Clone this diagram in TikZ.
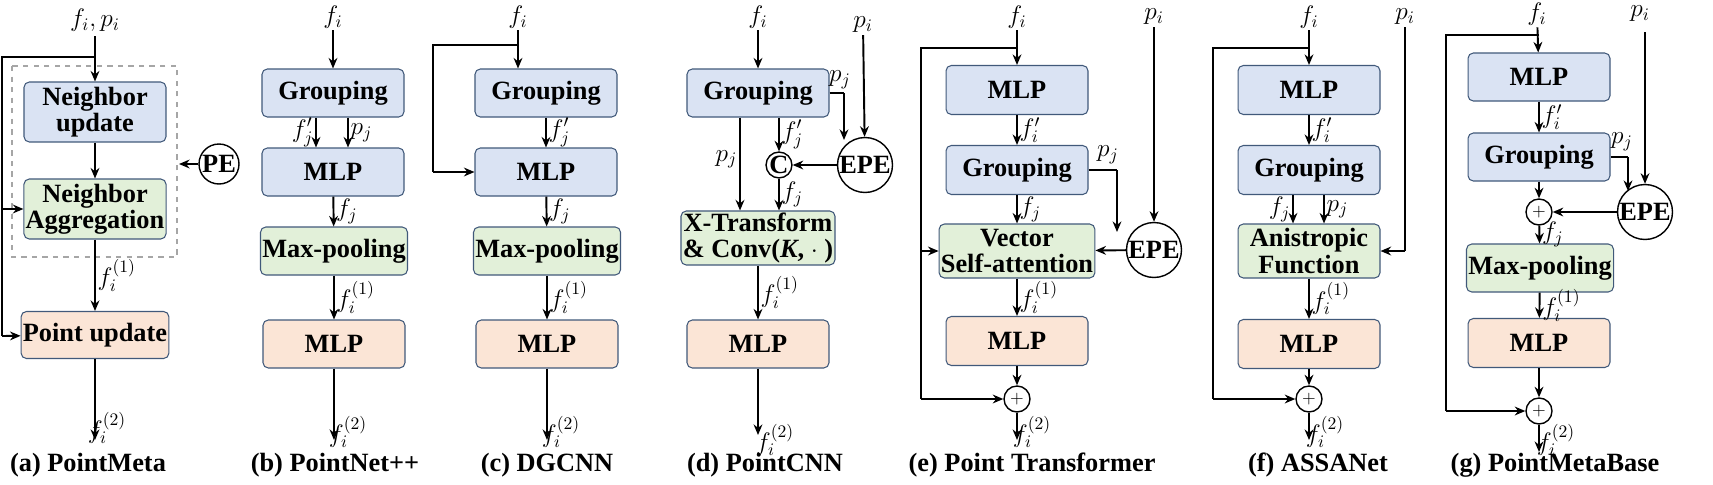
\documentclass[tikz,border=0pt]{standalone}
\usepackage{fontspec}
\setmainfont{Liberation Serif}
\usetikzlibrary{positioning, arrows.meta, shapes}
\definecolor{bluefill}{HTML}{DAE3F3}
\definecolor{greenfill}{HTML}{E2F0D9}
\definecolor{orangefill}{HTML}{FBE5D6}
\definecolor{boxline}{HTML}{41597A}
\begin{document}
\begin{tikzpicture}[
        x=0.02cm, y=-0.02cm,
        box/.style={draw=boxline, line width=0.6pt, rounded corners=3pt, minimum width=2.84cm, align=center, font=\fontsize{15}{15}\selectfont\bfseries, inner sep=1pt},
        blue/.style={box, fill=bluefill},
        green/.style={box, fill=greenfill},
        orange/.style={box, fill=orangefill},
        circ/.style={draw, circle, line width=0.8pt, inner sep=0pt, minimum size=#1, font=\fontsize{15}{15}\selectfont\bfseries},
        arrow/.style={draw, line width=1.1pt, -{Stealth[length=6pt,width=5pt]}},
        line/.style={draw, line width=1.1pt},
        lbl/.style={font=\fontsize{14}{14}\selectfont, inner sep=1pt},
        caption/.style={font=\fontsize{15}{15}\selectfont\bfseries}
    ]
    \useasboundingbox (0,0) rectangle (1713,484);

    % (a) PointMeta
    \node (ain) [lbl] at (95,20) {$f_i,p_i$};
    \node (anu) [blue, minimum height=1.2cm] at (95,112) {Neighbor\\update};
    \node (aag) [green, minimum height=1.2cm] at (95,209) {Neighbor\\Aggregation};
    \node (apu) [orange, minimum height=0.94cm] at (95,335) {Point update};
    \node (ape) [circ=0.8cm] at (219,164) {PE};
    \node (aout) [lbl] at (107,428) {$f_i^{(2)}$};
    \coordinate (aend) at (95,440);
    \coordinate (abr) at (95,57);
    \draw[dashed, gray!70, line width=0.9pt] (12,66) rectangle (177,257);
    \draw[arrow] (95,36) -- (anu);
    \draw[arrow] (anu) -- (aag);
    \draw[arrow] (aag) -- node[lbl, right] {$f_i^{(1)}$} (apu);
    \draw[arrow] (apu) -- (aend);
    \draw[arrow] (ape) -- (179,164);
    \draw[line] (abr) -- (2,57) -- (2,336);
    \draw[arrow] (2,336) -- (apu);
    \draw[arrow] (2,209) -- (aag);
    \node[caption] at (88,465) {(a) PointMeta};

    % (b) PointNet++
    \node (bin) [lbl] at (333,17) {$f_i$};
    \node (bgr) [blue, minimum height=0.96cm] at (333,93) {Grouping};
    \node (bm1) [blue, minimum height=0.96cm] at (333,172) {MLP};
    \node (bmp) [green, minimum height=0.96cm] at (334,251) {Max-pooling};
    \node (bm2) [orange, minimum height=0.96cm] at (334,344) {MLP};
    \coordinate (bend) at (334,440);
    \draw[arrow] (bin) -- (bgr);
    \draw[arrow] (bgr.south -| 316,0) -- node[lbl, left] {$f_j'$} (bm1.north -| 316,0);
    \draw[arrow] (bgr.south -| 348,0) -- node[lbl, right] {$p_j$} (bm1.north -| 348,0);
    \draw[arrow] (bm1) -- node[lbl, right] {$f_j$} (bmp);
    \draw[arrow] (bmp) -- node[lbl, right] {$f_i^{(1)}$} (bm2);
    \draw[arrow] (bm2) -- (bend);
    \node[lbl] at (348,432) {$f_i^{(2)}$};
    \node[caption] at (335,465) {(b) PointNet++};

    % (c) DGCNN
    \node (cin) [lbl] at (518,17) {$f_i$};
    \node (cgr) [blue, minimum height=0.96cm] at (546,93) {Grouping};
    \node (cm1) [blue, minimum height=0.96cm] at (546,172) {MLP};
    \node (cmp) [green, minimum height=0.96cm] at (547,251) {Max-pooling};
    \node (cm2) [orange, minimum height=0.96cm] at (547,344) {MLP};
    \coordinate (cend) at (547,440);
    \draw[arrow] (cin) -- (cgr.north -| cin);
    \draw[line] (518,45) -- (433,45) -- (433,172);
    \draw[arrow] (433,172) -- (cm1);
    \draw[arrow] (cgr) -- node[lbl, right] {$f_j'$} (cm1);
    \draw[arrow] (cm1) -- node[lbl, right] {$f_j$} (cmp);
    \draw[arrow] (cmp) -- node[lbl, right] {$f_i^{(1)}$} (cm2);
    \draw[arrow] (cm2) -- (cend);
    \node[lbl] at (561,432) {$f_i^{(2)}$};
    \node[caption] at (547,465) {(c) DGCNN};

    % (d) PointCNN
    \node (din) [lbl] at (758,17) {$f_i$};
    \node (dpin) [lbl] at (863,25) {$p_i$};
    \node (dgr) [blue, minimum height=0.96cm] at (758,93) {Grouping};
    \node (dc) [circ=0.5cm] at (779,165) {C};
    \node (depe) [circ=1.1cm] at (865,165) {EPE};
    \node (dxt) [green, minimum height=1.06cm] at (758,238) {X-Transform\\\& Conv(\textit{K}, $\cdot$ )};
    \node (dm2) [orange, minimum height=0.96cm] at (758,344) {MLP};
    \coordinate (dend) at (758,435);
    \draw[arrow] (din) -- (dgr);
    \draw[arrow] (dgr.south -| 740,0) -- node[lbl, left, pos=0.45] {$p_j$} (dxt.north -| 740,0);
    \draw[arrow] (dgr.south -| dc) -- node[lbl, right] {$f_j'$} (dc);
    \draw[arrow] (dc) -- node[lbl, right] {$f_j$} (dxt.north -| dc);
    \draw[arrow] (depe) -- (dc);
    \draw[arrow] (dpin) -- (depe);
    \draw[line] (dgr.east |- 0,93) -- (844,93);
    \draw[arrow] (844,93) -- (844,140);
    \node[lbl] at (840,80) {$p_j$};
    \draw[arrow] (dxt) -- node[lbl, right] {$f_i^{(1)}$} (dm2);
    \draw[arrow] (dm2) -- (dend);
    \node[lbl] at (775,440) {$f_i^{(2)}$};
    \node[caption] at (765,465) {(d) PointCNN};

    % (e) Point Transformer
    \node (ein) [lbl] at (1017,17) {$f_i$};
    \node (epin) [lbl] at (1154,17) {$p_i$};
    \node (em1) [blue, minimum height=0.98cm] at (1017,90) {MLP};
    \node (egr) [blue, minimum height=0.98cm] at (1017,170) {Grouping};
    \node (esa) [green, minimum height=1.08cm] at (1017,251) {Vector\\Self-attention};
    \node (em2) [orange, minimum height=0.98cm] at (1017,341) {MLP};
    \node (eplus) [circ=0.52cm, font=\normalsize] at (1017,399) {$+$};
    \node (eepe) [circ=1.1cm] at (1154,250) {EPE};
    \coordinate (eend) at (1017,440);
    \draw[arrow] (ein) -- (em1);
    \draw[arrow] (em1) -- node[lbl, right] {$f_i'$} (egr);
    \draw[arrow] (egr) -- node[lbl, right] {$f_j$} (esa);
    \draw[arrow] (esa) -- node[lbl, right] {$f_i^{(1)}$} (em2);
    \draw[arrow] (em2) -- (eplus);
    \draw[arrow] (eplus) -- (eend);
    \node[lbl] at (1032,432) {$f_i^{(2)}$};
    \draw[arrow] (epin) -- (eepe);
    \draw[arrow] (eepe) -- (esa);
    \draw[line] (egr.east) -- (1117,170);
    \draw[arrow] (1117,170) -- (1117,232);
    \node[lbl] at (1108,155) {$p_j$};
    \draw[line] (1017,48) -- (921,48) -- (921,399);
    \draw[arrow] (921,399) -- (eplus);
    \draw[arrow] (921,251) -- (esa);
    \node[caption] at (1032,465) {(e) Point Transformer};

    % (f) ASSANet
    \node (fin) [lbl] at (1309,17) {$f_i$};
    \node (fpin) [lbl] at (1405,17) {$p_i$};
    \node (fm1) [blue, minimum height=0.98cm] at (1309,90) {MLP};
    \node (fgr) [blue, minimum height=0.98cm] at (1309,170) {Grouping};
    \node (faf) [green, minimum height=1.08cm] at (1309,251) {Anistropic\\Function};
    \node (fm2) [orange, minimum height=0.98cm] at (1309,344) {MLP};
    \node (fplus) [circ=0.52cm, font=\normalsize] at (1309,399) {$+$};
    \coordinate (fend) at (1309,440);
    \draw[arrow] (fin) -- (fm1);
    \draw[arrow] (fm1) -- node[lbl, right] {$f_i'$} (fgr);
    \draw[arrow] (fgr.south -| 1293,0) -- node[lbl, left] {$f_j$} (faf.north -| 1293,0);
    \draw[arrow] (fgr.south -| 1324,0) -- node[lbl, right] {$p_j$} (faf.north -| 1324,0);
    \draw[arrow] (faf) -- node[lbl, right] {$f_i^{(1)}$} (fm2);
    \draw[arrow] (fm2) -- (fplus);
    \draw[arrow] (fplus) -- (fend);
    \node[lbl] at (1325,432) {$f_i^{(2)}$};
    \draw[line] (fpin) -- (1405,251);
    \draw[arrow] (1405,251) -- (faf);
    \draw[line] (1309,48) -- (1213,48) -- (1213,399);
    \draw[arrow] (1213,399) -- (fplus);
    \node[caption] at (1318,465) {(f) ASSANet};

    % (g) PointMetaBase
    \node (gin) [lbl] at (1537,14) {$f_i$};
    \node (gpin) [lbl] at (1640,14) {$p_i$};
    \node (gm1) [blue, minimum height=0.96cm] at (1539,77) {MLP};
    \node (ggr) [blue, minimum height=0.96cm] at (1539,157) {Grouping};
    \node (gp1) [circ=0.52cm, font=\normalsize] at (1539,212) {$+$};
    \node (gmp) [green, minimum height=0.96cm] at (1540,268) {Max-pooling};
    \node (gm2) [orange, minimum height=0.98cm] at (1539,343) {MLP};
    \node (gp2) [circ=0.52cm, font=\normalsize] at (1539,411) {$+$};
    \node (gepe) [circ=1.1cm] at (1645,212) {EPE};
    \coordinate (gend) at (1539,452);
    \draw[arrow] (gin) -- (gm1);
    \draw[arrow] (gm1) -- node[lbl, right] {$f_i'$} (ggr);
    \draw[arrow] (ggr) -- (gp1);
    \draw[arrow] (gp1) -- node[lbl, right] {$f_j$} (gmp);
    \draw[arrow] (gmp) -- node[lbl, right] {$f_i^{(1)}$} (gm2);
    \draw[arrow] (gm2) -- (gp2);
    \draw[arrow] (gp2) -- (gend);
    \node[lbl] at (1556,440) {$f_i^{(2)}$};
    \draw[arrow] (1645,32) -- (gepe);
    \draw[arrow] (gepe) -- (gp1);
    \draw[line] (ggr.east) -- (1628,157);
    \draw[arrow] (1628,157) -- (1628,191);
    \node[lbl] at (1622,142) {$p_j$};
    \draw[line] (1539,35) -- (1446,35) -- (1446,411);
    \draw[arrow] (1446,411) -- (gp2);
    \node[caption] at (1555,465) {(g) PointMetaBase};

\end{tikzpicture}
\end{document}
